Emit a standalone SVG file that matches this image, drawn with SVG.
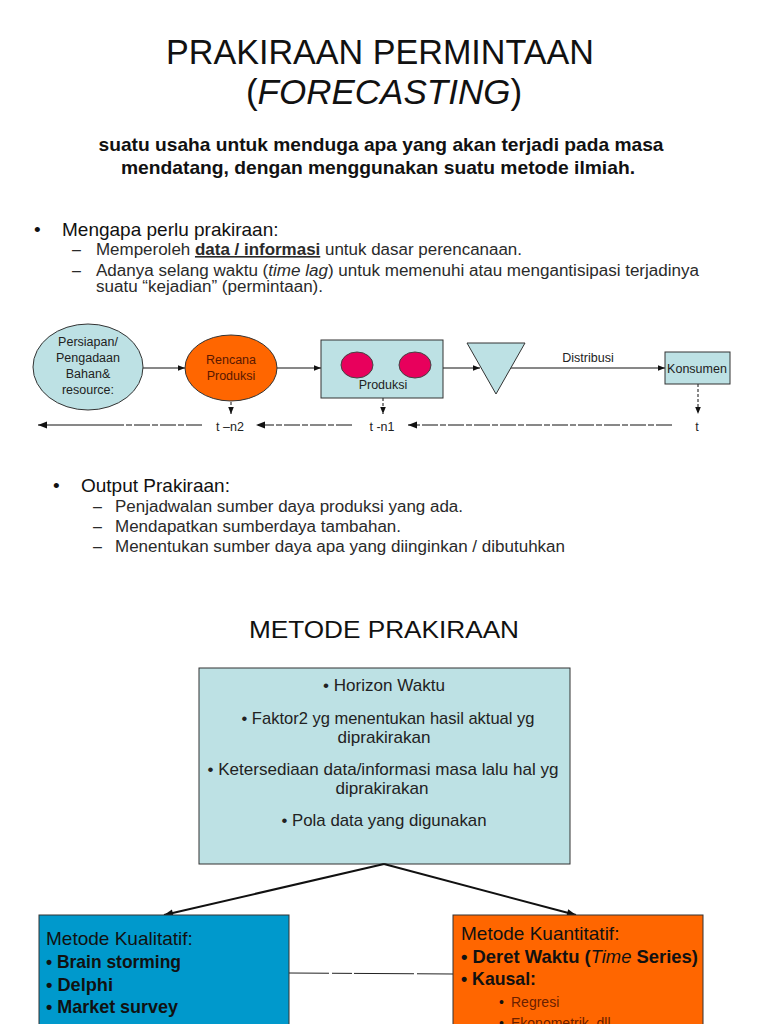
<svg xmlns="http://www.w3.org/2000/svg" width="768" height="1024" viewBox="0 0 768 1024">
<defs>
<style>
text{font-family:"Liberation Sans",Arial,sans-serif;fill:#111}
.t{font-size:35px}
.sub{font-size:19px;font-weight:bold}
.h{font-size:19px}
.s{font-size:16px;fill:#2a2a2a}
.d{font-size:12.5px;fill:#222}
.bx{font-size:17px;fill:#222}
.bt{font-size:19px}
.bb{font-size:19px;font-weight:bold}
.sm{font-size:14px;fill:#6a2000}
.lb{fill:#BDE1E4;stroke:#333;stroke-width:1}
.ln{stroke:#111;stroke-width:1;fill:none}
.dl{stroke:#111;stroke-width:1;fill:none;stroke-dasharray:3 2}
.tl{stroke:#111;stroke-width:1;fill:none;stroke-dasharray:16 2 6 2}
</style>
<marker id="ah" viewBox="0 0 10 10" refX="10" refY="5" markerWidth="7" markerHeight="7" orient="auto" markerUnits="userSpaceOnUse"><path d="M0,1 L10,5 L0,9 z" fill="#111"/></marker>
<marker id="ah2" viewBox="0 0 10 10" refX="10" refY="5" markerWidth="10" markerHeight="9" orient="auto" markerUnits="userSpaceOnUse"><path d="M0,1 L10,5 L0,9 z" fill="#111"/></marker>
</defs>
<rect width="768" height="1024" fill="#fff"/>

<g id="title">
<text class="t" x="380" y="64" text-anchor="middle" textLength="428" lengthAdjust="spacingAndGlyphs">PRAKIRAAN PERMINTAAN</text>
<text class="t" x="384" y="104" text-anchor="middle">(<tspan font-style="italic">FORECASTING</tspan>)</text>
<text class="sub" x="381" y="151" text-anchor="middle" textLength="565" lengthAdjust="spacingAndGlyphs">suatu usaha untuk menduga apa yang akan terjadi pada masa</text>
<text class="sub" x="378" y="174" text-anchor="middle" textLength="514" lengthAdjust="spacingAndGlyphs">mendatang, dengan menggunakan suatu metode ilmiah.</text>
</g>

<g id="mengapa">
<text class="h" x="34" y="236">•</text>
<text class="h" x="62" y="236">Mengapa perlu prakiraan:</text>
<text class="s" x="72" y="255">–</text>
<text class="s" x="96" y="255" textLength="426" lengthAdjust="spacingAndGlyphs">Memperoleh <tspan font-weight="bold" text-decoration="underline">data / informasi</tspan> untuk dasar perencanaan.</text>
<text class="s" x="72" y="276">–</text>
<text class="s" x="96" y="276" textLength="603" lengthAdjust="spacingAndGlyphs">Adanya selang waktu (<tspan font-style="italic">time lag</tspan>) untuk memenuhi atau mengantisipasi terjadinya</text>
<text class="s" x="96" y="292" textLength="227" lengthAdjust="spacingAndGlyphs">suatu “kejadian” (permintaan).</text>
</g>

<g id="connectors-flow">
<line class="ln" x1="143" y1="368" x2="185" y2="368" marker-end="url(#ah)"/>
<line class="ln" x1="277" y1="368" x2="321" y2="368" marker-end="url(#ah)"/>
<line class="ln" x1="443" y1="368" x2="480" y2="368" marker-end="url(#ah)"/>
<line class="ln" x1="508" y1="368" x2="665" y2="368" marker-end="url(#ah)"/>
<line class="dl" x1="231" y1="402" x2="231" y2="414" marker-end="url(#ah)"/>
<line class="dl" x1="383" y1="398" x2="383" y2="414" marker-end="url(#ah)"/>
<line class="dl" x1="698" y1="384" x2="698" y2="414" marker-end="url(#ah)"/>
<line x1="110" y1="425" x2="38" y2="425" stroke="#111" stroke-width="1" marker-end="url(#ah2)"/>
<line class="tl" x1="202" y1="425" x2="110" y2="425"/>
<line class="tl" x1="352" y1="425" x2="256" y2="425" marker-end="url(#ah2)"/>
<line class="tl" x1="672" y1="425" x2="408" y2="425" marker-end="url(#ah2)"/>
</g>

<g id="persiapan">
<ellipse cx="88" cy="367" rx="55" ry="43" class="lb"/>
<text class="d" x="88" y="346" text-anchor="middle">Persiapan/</text>
<text class="d" x="88" y="362" text-anchor="middle">Pengadaan</text>
<text class="d" x="88" y="378" text-anchor="middle">Bahan&amp;</text>
<text class="d" x="88" y="394" text-anchor="middle">resource:</text>
</g>

<g id="rencana">
<ellipse cx="231" cy="368" rx="46" ry="33" fill="#FF6600" stroke="#333" stroke-width="1"/>
<text class="d" x="231" y="364" text-anchor="middle" style="fill:#5a1800">Rencana</text>
<text class="d" x="231" y="380" text-anchor="middle" style="fill:#5a1800">Produksi</text>
</g>

<g id="produksi">
<rect x="321" y="340" width="122" height="58" class="lb"/>
<ellipse cx="357" cy="365" rx="16" ry="13" fill="#E8005C" stroke="#444" stroke-width="1"/>
<ellipse cx="415" cy="365" rx="16" ry="13" fill="#E8005C" stroke="#444" stroke-width="1"/>
<text class="d" x="383" y="389" text-anchor="middle">Produksi</text>
</g>

<g id="distribusi">
<polygon points="467,343 525,343 496,394" class="lb"/>
<text class="d" x="588" y="362" text-anchor="middle">Distribusi</text>
</g>

<g id="konsumen">
<rect x="665" y="352" width="65" height="32" class="lb"/>
<text class="d" x="697" y="373" text-anchor="middle">Konsumen</text>
</g>

<g id="timelabels">
<text class="d" x="230" y="431" text-anchor="middle">t –n2</text>
<text class="d" x="382" y="431" text-anchor="middle">t -n1</text>
<text class="d" x="697" y="431" text-anchor="middle">t</text>
</g>

<g id="output">
<text class="h" x="53" y="492">•</text>
<text class="h" x="81" y="492">Output Prakiraan:</text>
<text class="s" x="93" y="512">–</text>
<text class="s" x="115" y="512" textLength="348" lengthAdjust="spacingAndGlyphs">Penjadwalan sumber daya produksi yang ada.</text>
<text class="s" x="93" y="532">–</text>
<text class="s" x="115" y="532" textLength="286" lengthAdjust="spacingAndGlyphs">Mendapatkan sumberdaya tambahan.</text>
<text class="s" x="93" y="552">–</text>
<text class="s" x="115" y="552" textLength="450" lengthAdjust="spacingAndGlyphs">Menentukan sumber daya apa yang diinginkan / dibutuhkan</text>
</g>

<g id="metode-title">
<text x="384" y="638" text-anchor="middle" style="font-size:24px" textLength="270" lengthAdjust="spacingAndGlyphs">METODE  PRAKIRAAN</text>
</g>

<g id="faktor">
<rect x="199" y="668" width="371" height="196" class="lb"/>
<text class="bx" x="384" y="691" text-anchor="middle" textLength="122" lengthAdjust="spacingAndGlyphs">• Horizon Waktu</text>
<text class="bx" x="388" y="724" text-anchor="middle" textLength="293" lengthAdjust="spacingAndGlyphs">• Faktor2 yg menentukan hasil aktual yg</text>
<text class="bx" x="384" y="743" text-anchor="middle" textLength="93" lengthAdjust="spacingAndGlyphs">diprakirakan</text>
<text class="bx" x="383" y="775" text-anchor="middle" textLength="351" lengthAdjust="spacingAndGlyphs">• Ketersediaan data/informasi masa lalu hal yg</text>
<text class="bx" x="382" y="794" text-anchor="middle" textLength="93" lengthAdjust="spacingAndGlyphs">diprakirakan</text>
<text class="bx" x="384" y="826" text-anchor="middle" textLength="205" lengthAdjust="spacingAndGlyphs">• Pola data yang digunakan</text>
</g>

<g id="connectors-metode">
<line x1="384" y1="864" x2="164" y2="915" stroke="#111" stroke-width="2" marker-end="url(#ah2)"/>
<line x1="384" y1="864" x2="576" y2="915" stroke="#111" stroke-width="2" marker-end="url(#ah2)"/>
<line x1="289" y1="973" x2="453" y2="974" stroke="#222" stroke-width="1" stroke-dasharray="40 3 20 2 60 3"/>
</g>

<g id="kualitatif">
<rect x="39" y="915" width="250" height="115" fill="#0099CC" stroke="#333" stroke-width="1"/>
<text class="bt" x="46" y="945">Metode Kualitatif:</text>
<text class="bb" x="46" y="968" textLength="135" lengthAdjust="spacingAndGlyphs">• Brain storming</text>
<text class="bb" x="46" y="991" textLength="67" lengthAdjust="spacingAndGlyphs">• Delphi</text>
<text class="bb" x="46" y="1013" textLength="132" lengthAdjust="spacingAndGlyphs">• Market survey</text>
</g>

<g id="kuantitatif">
<rect x="453" y="915" width="250" height="115" fill="#FF6600" stroke="#333" stroke-width="1"/>
<text class="bt" x="461" y="940">Metode Kuantitatif:</text>
<text class="bb" x="461" y="963" textLength="237" lengthAdjust="spacingAndGlyphs">• Deret Waktu (<tspan font-style="italic" font-weight="normal">Time</tspan> Series)</text>
<text class="bb" x="461" y="985" textLength="75" lengthAdjust="spacingAndGlyphs">• Kausal:</text>
<text class="sm" x="499" y="1007" style="fill:#111">•</text>
<text class="sm" x="511" y="1007">Regresi</text>
<text class="sm" x="499" y="1028" style="fill:#111">•</text>
<text class="sm" x="511" y="1028">Ekonometrik, dll</text>
</g>
</svg>
